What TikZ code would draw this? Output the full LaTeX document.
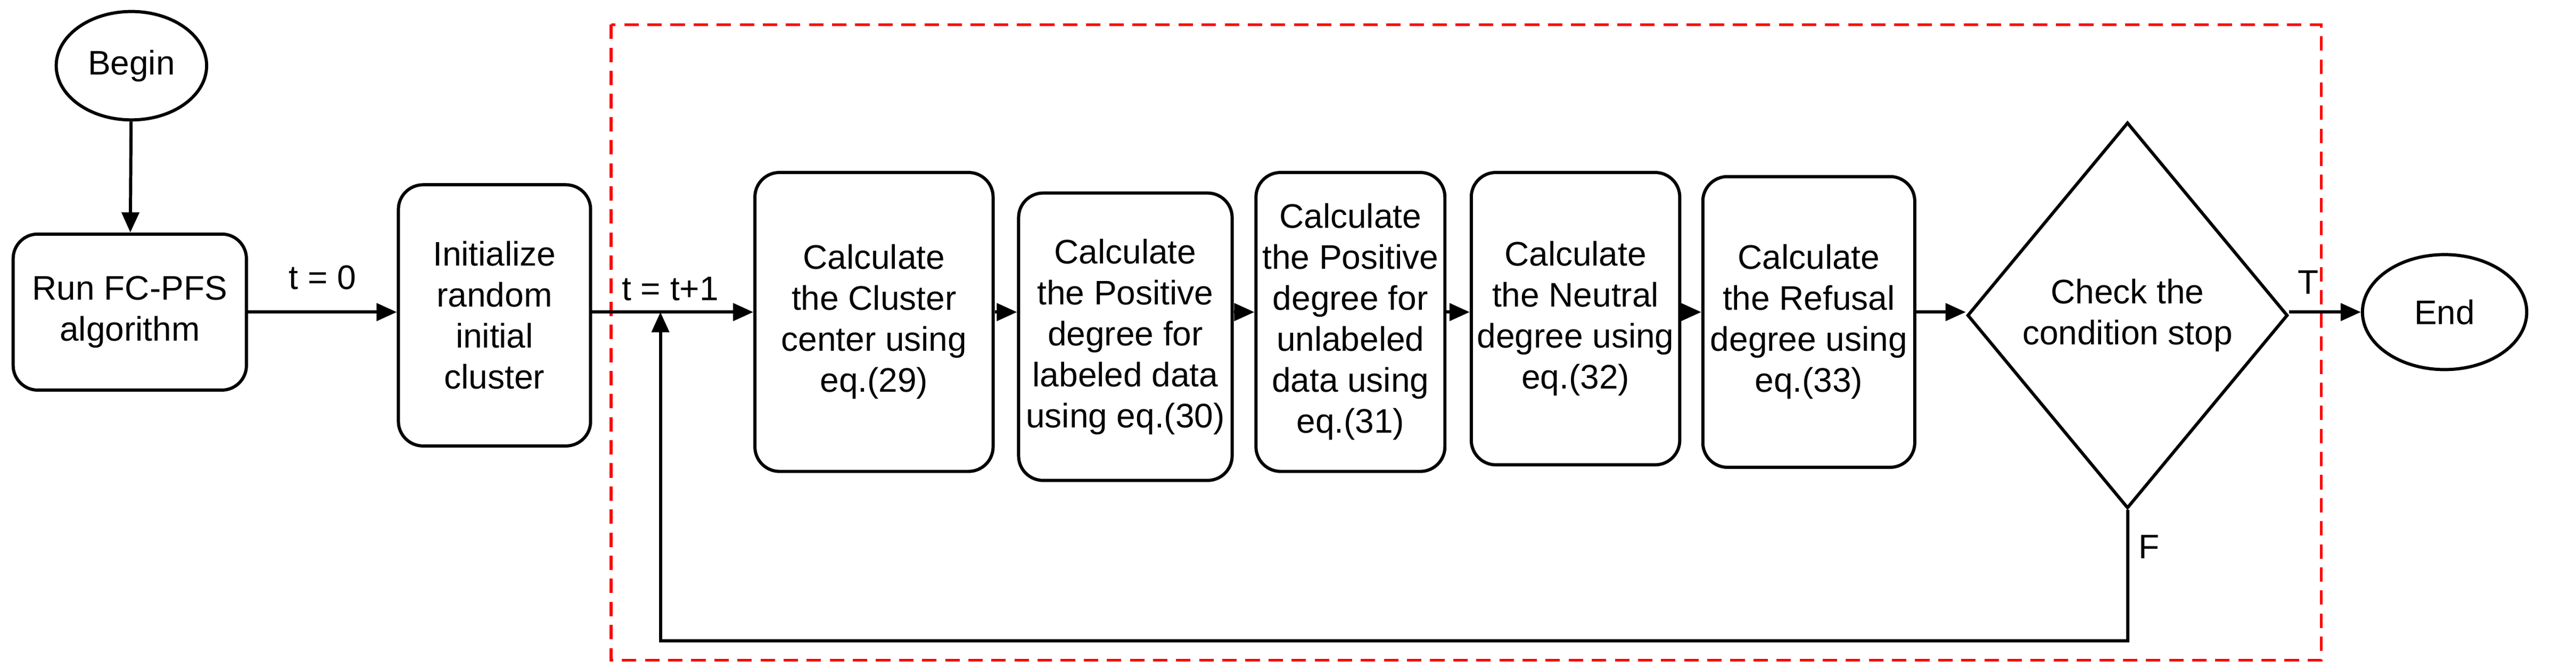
\documentclass[tikz,border=0pt]{standalone}
\usepackage{fontspec}
\setmainfont{Liberation Sans}
\usetikzlibrary{shapes.geometric,arrows.meta}
\begin{document}
\begin{tikzpicture}[x=0.02cm,y=-0.02cm,
  font=\fontsize{11.8}{14.2}\selectfont,
  every path/.style={line width=1.1pt},
  pbox/.style={draw,rounded corners=0.3cm,align=center,inner sep=2pt},
  term/.style={draw,ellipse,align=center},
  arr/.style={-{Triangle[length=7pt,width=6pt]}}]
\useasboundingbox (0,0) rectangle (1568,407);
\draw[red,dashed,line width=1pt,dash pattern=on 5pt off 3pt] (372,15) rectangle (1413,402);
\node[term,minimum width=84*0.02cm,minimum height=66*0.02cm] (begin) at (80,40) {Begin};
\node[pbox,minimum width=142*0.02cm,minimum height=95*0.02cm] (run) at (79,190) {Run FC-PFS\\algorithm};
\node[pbox,minimum width=117*0.02cm,minimum height=159*0.02cm] (init) at (301,192) {Initialize\\random\\initial\\cluster};
\node[pbox,minimum width=145*0.02cm,minimum height=182*0.02cm] (c1) at (532,196) {Calculate\\the Cluster\\center using\\eq.(29)};
\node[pbox,minimum width=130*0.02cm,minimum height=175*0.02cm] (c2) at (685,205) {Calculate\\the Positive\\degree for\\labeled data\\using eq.(30)};
\node[pbox,minimum width=115*0.02cm,minimum height=182*0.02cm] (c3) at (822,196) {Calculate\\the Positive\\degree for\\unlabeled\\data using\\eq.(31)};
\node[pbox,minimum width=125*0.02cm,minimum height=178*0.02cm] (c4) at (959,194) {Calculate\\the Neutral\\degree using\\eq.(32)};
\node[pbox,minimum width=129*0.02cm,minimum height=177*0.02cm] (c5) at (1101,196) {Calculate\\the Refusal\\degree using\\eq.(33)};
\node[draw,diamond,aspect=0.83,minimum width=195*0.02cm,minimum height=235*0.02cm,inner sep=0pt,align=center] (chk) at (1295,192) {Check the\\condition stop};
\node[term,minimum width=100*0.02cm,minimum height=70*0.02cm] (end) at (1488,190) {End};
\coordinate (fb1) at (1295,390);
\coordinate (fb2) at (402,390);
\coordinate (fb3) at (402,190);
\draw[arr] (begin) -- (run);
\draw[arr] (run.east|-0,190) -- node[above=4pt]{t = 0} (init.west|-0,190);
\draw[arr] (init.east|-0,190) -- (c1.west|-0,190);
\node at (408,176) {t = t+1};
\draw[arr] (c1.east|-0,190) -- (c2.west|-0,190);
\draw[arr] (c2.east|-0,190) -- (c3.west|-0,190);
\draw[arr] (c3.east|-0,190) -- (c4.west|-0,190);
\draw[arr] (c4.east|-0,190) -- (c5.west|-0,190);
\draw[arr] (c5.east|-0,190) -- (chk.west|-0,190);
\draw[arr] (chk.east|-0,190) -- (end.west|-0,190);
\node at (1405,172) {T};
\node at (1308,333) {F};
\draw[arr] (chk.south) -- (fb1) -- (fb2) -- (fb3);
\end{tikzpicture}
\end{document}
